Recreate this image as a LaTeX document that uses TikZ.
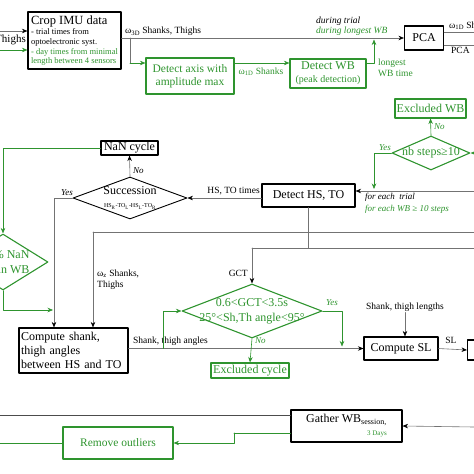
\documentclass[tikz,border=0pt]{standalone}
\usepackage{fontspec}
\setmainfont{Liberation Serif}
\usetikzlibrary{shapes.geometric,arrows.meta}
\definecolor{wbgreen}{RGB}{46,148,46}
\newcommand{\cropsmall}{\fontsize{8.5}{9.7}\selectfont}

\begin{document}
\begin{tikzpicture}[
				x=1pt, y=-1pt,
				line cap=round,
				line join=round,
				every node/.style={font=\fontsize{12}{13}\selectfont},
				box/.style={draw=black, line width=1.1pt, inner sep=1pt},
				gbox/.style={draw=wbgreen, line width=1.1pt, inner sep=1pt, text=wbgreen},
				dia/.style={diamond, draw=black, line width=0.9pt, inner sep=0pt},
				gdia/.style={diamond, draw=wbgreen, line width=1.1pt, inner sep=0pt},
				link/.style={draw=black!55, line width=0.6pt},
				glink/.style={draw=wbgreen, line width=0.6pt},
				arr/.style={link, -{Stealth[length=5.5pt,width=4.5pt,color=black]}},
				garr/.style={glink, -{Stealth[length=5.5pt,width=4.5pt]}},
				lbl/.style={font=\fontsize{9.5}{11}\selectfont, inner sep=1pt},
				note/.style={font=\itshape\fontsize{9}{11}\selectfont, inner sep=1pt}
				]
				\useasboundingbox (0,0) rectangle (474,474);
				\clip (0,0) rectangle (474,474);
				
				% Boxes
				\node[box, align=left, minimum width=93pt, minimum height=57pt, inner sep=2pt, font=\cropsmall] (crop) at (74.5,40.5)
					{\fontsize{12.5}{14}\selectfont Crop IMU data\\[1pt]
					\cropsmall - trial times from\\
					\cropsmall optoelectronic syst.\\
					\cropsmall\color{wbgreen}- day times from minimal\\
					\cropsmall\color{wbgreen}length between 4 sensors};
				\node[gbox, align=center, minimum width=88pt, minimum height=36pt, font=\fontsize{11.5}{13}\selectfont] (axis) at (190,76) {Detect axis with\\amplitude max};
				\node[gbox, align=center, minimum width=76pt, minimum height=29pt] (wb) at (328,73.5) {Detect WB\\{\fontsize{10}{11}\selectfont (peak detection)}};
				\node[box, minimum width=39pt, minimum height=24pt] (pca) at (424,38) {PCA};
				\node[gbox, minimum width=71pt, minimum height=19pt] (exwb) at (430.5,108.5) {Excluded WB};
				\node[box, minimum width=93pt, minimum height=23pt] (hsto) at (308.5,195.5) {Detect HS, TO};
				\node[box, minimum width=57pt, minimum height=14pt, inner sep=0pt] (nan) at (129.5,148) {NaN cycle};
				\node[box, text width=105pt, inner sep=2pt, align=left, minimum height=45pt, font=\fontsize{12}{14}\selectfont] (shank) at (73.5,350.5) {Compute shank,\\thigh angles\\between HS and TO};
				\node[gbox, minimum width=78pt, minimum height=15pt, inner sep=0pt] (excyc) at (250,370.5) {Excluded cycle};
				\node[box, minimum width=74pt, minimum height=23pt] (sl) at (401,348.5) {Compute SL};
				\node[box, minimum width=60pt, minimum height=20pt, anchor=west] (slout) at (467,350) {};
				\node[box, align=right, minimum width=111pt, minimum height=32pt] (gather) at (346.5,426)
					{Gather WB\textsubscript{session,}\\{\color{wbgreen}\fontsize{7}{8}\selectfont 3 Days}};
				\node[gbox, minimum width=110pt, minimum height=32pt, font=\fontsize{11.5}{13}\selectfont] (outl) at (118,443) {Remove outliers};
				
				% Diamonds
				\node[gdia, minimum width=78pt, minimum height=34pt, label={[text=wbgreen]center:{nb steps≥10}}] (nb) at (431,153) {};
				\node[dia, minimum width=114pt, minimum height=42pt,
					label={[align=center]center:{Succession\\{\fontsize{6}{7}\selectfont HS\textsubscript{R}-TO\textsubscript{L}-HS\textsubscript{L}-TO\textsubscript{R}}}}] (succ) at (130,198) {};
				\node[gdia, minimum width=90pt, minimum height=56pt] (nandia) at (3,262) {};
				\node[text=wbgreen, align=right, anchor=east, font=\fontsize{12}{15}\selectfont] (nandiatxt) at ([xshift=30pt]nandia.center) {\% NaN\\in WB};
				\node[gdia, minimum width=140pt, minimum height=54pt,
					label={[text=wbgreen, align=center, font=\fontsize{12}{15}\selectfont]center:{0.6<GCT<3.5s\\25°<Sh,Th angle<95°}}] (gct) at (252,311) {};
				
				% Inputs on the left
				\coordinate (inA) at (0,31);
				\coordinate (inB) at (0,50);
				\draw[arr] (inA) -- (inA -| crop.west);
				\draw[garr] (inB) -- (inB -| crop.west);
				\node[lbl, anchor=east, font=\fontsize{11}{12}\selectfont] (thighs) at (27,40) {Thighs};
				
				% Top row
				\draw[arr] (crop.east |- pca.west) -- (pca.west);
				\node[lbl, anchor=south west] (w3d) at (124,37) {ω\textsubscript{3D} Shanks, Thighs};
				\node[note, anchor=south west, align=left, font=\itshape\fontsize{9.5}{10}\selectfont] (during) at (315,37) {during trial\\\color{wbgreen}during longest WB};
				\coordinate (br) at (130,38);
				\coordinate (row2) at (0,63);
				\draw[link] (br) -- (br |- row2);
				\draw[garr] (br |- row2) -- (axis.west |- row2);
				\draw[garr] (axis.east |- row2) -- (wb.west |- row2);
				\node[lbl, text=wbgreen] (w1d) at (261,72) {ω\textsubscript{1D} Shanks};
				\coordinate (lwb) at (374,38);
				\draw[garr, shorten >=1.5pt] (wb.east |- row2) -| (lwb);
				\node[lbl, text=wbgreen, align=left, anchor=west] (lwbt) at (377,67.5) {longest\\WB time};
				
				% PCA outputs
				\coordinate (pr1) at (474,32);
				\coordinate (pr2) at (474,45);
				\draw[link] (pca.east |- pr1) -- (pr1);
				\draw[link] (pca.east |- pr2) -- (pr2);
				\node[lbl, anchor=south west] (pcaw) at (448,31) {ω\textsubscript{1D} Shanks};
				\node[lbl, anchor=north west] (pcap) at (450,46) {PCA};
				
				% Steps check
				\draw[garr] (nb.north) -- (exwb.south);
				\node[note, text=wbgreen, anchor=west] (nbno) at (433,127) {No};
				\coordinate (nbin) at (474,153);
				\draw[garr] (nbin) -- (nb.east);
				\coordinate (yesend) at (374,189);
				\draw[garr] (nb.west) -| (yesend);
				\node[note, text=wbgreen, anchor=south east] (nbyes) at (392,152) {Yes};
				
				% Gait events
				\coordinate (rin) at (474,191);
				\draw[arr] (rin) -- (rin -| hsto.east);
				\node[note, anchor=north west, align=left, font=\itshape\fontsize{9}{12}\selectfont] (foreach) at (364,192) {for each\ \ trial\\\color{wbgreen}for each WB ≥ 10 steps};
				\draw[arr] (hsto.west |- succ.east) -- (succ.east);
				\node[lbl, anchor=south east] (hstot) at (261,196) {HS, TO times};
				\draw[arr] (succ.north) -- (nan.south);
				\node[note, anchor=west] (succno) at (132,171) {No};
				\draw[garr] (nan.west) -| (nandia.north);
				\coordinate (sY) at (54,0);
				\draw[arr] (succ.west) -| (sY |- shank.north);
				\node[note, anchor=south east] (succyes) at (74,197) {Yes};
				\coordinate (nanret) at (0,310);
				\draw[garr, shorten >=1pt] (nandia.south) |- (sY |- nanret);
				
				% Angular velocity to angles
				\coordinate (wz) at (474,232);
				\coordinate (wX) at (93,232);
				\draw[link] (wz) -- (wX);
				\draw[arr] (wX) -- (wX |- shank.north);
				\node[lbl, align=left, anchor=north west] (wzt) at (96,269) {ω\textsubscript{z} Shanks,\\Thighs};
				
				% Cycle check
				\coordinate (gr) at (474,248);
				\draw[link] (hsto.south) -- (hsto.south |- gr);
				\draw[link] (gr) -- (gct.north |- gr);
				\draw[arr] (gct.north |- gr) -- (gct.north);
				\node[lbl, anchor=east] (gctt) at (249,273) {GCT};
				\draw[arr] (shank.east |- sl.west) -- (sl.west);
				\node[lbl, anchor=south west] (angt) at (132,347) {Shank, thigh angles};
				\coordinate (gx) at (163,0);
				\draw[garr] (gx |- sl.west) |- (gct.west);
				\coordinate (gy) at (342,0);
				\draw[garr, shorten >=2pt] (gct.east) -| (gy |- sl.west);
				\node[note, text=wbgreen, anchor=south west] (gctyes) at (325,307) {Yes};
				\draw[garr] (gct.south) -- (excyc.north);
				\node[note, text=wbgreen, anchor=west] (gctno) at (254,341) {No};
				
				% Step length
				\node[lbl] (lens) at (405,307) {Shank, thigh lengths};
				\draw[arr] (lens.south) -- (lens.south |- sl.north);
				\draw[arr] (sl.east) -- (slout.west);
				\node[lbl, anchor=south] (slt) at (451,345) {SL};
				
				% Bottom row
				\coordinate (bl) at (0,415);
				\draw[draw=black!70, line width=1pt] (gather.west |- bl) -- (bl);
				\coordinate (bin) at (474,427);
				\draw[arr] (bin) -- (gather.east);
				\coordinate (gk) at (234,433);
				\draw[glink] (gather.west |- gk) -- (gk);
				\draw[garr] (gk) |- (outl.east);
				\coordinate (ol) at (0,443);
				\draw[glink] (outl.west) -- (ol);
			\end{tikzpicture}
\end{document}
